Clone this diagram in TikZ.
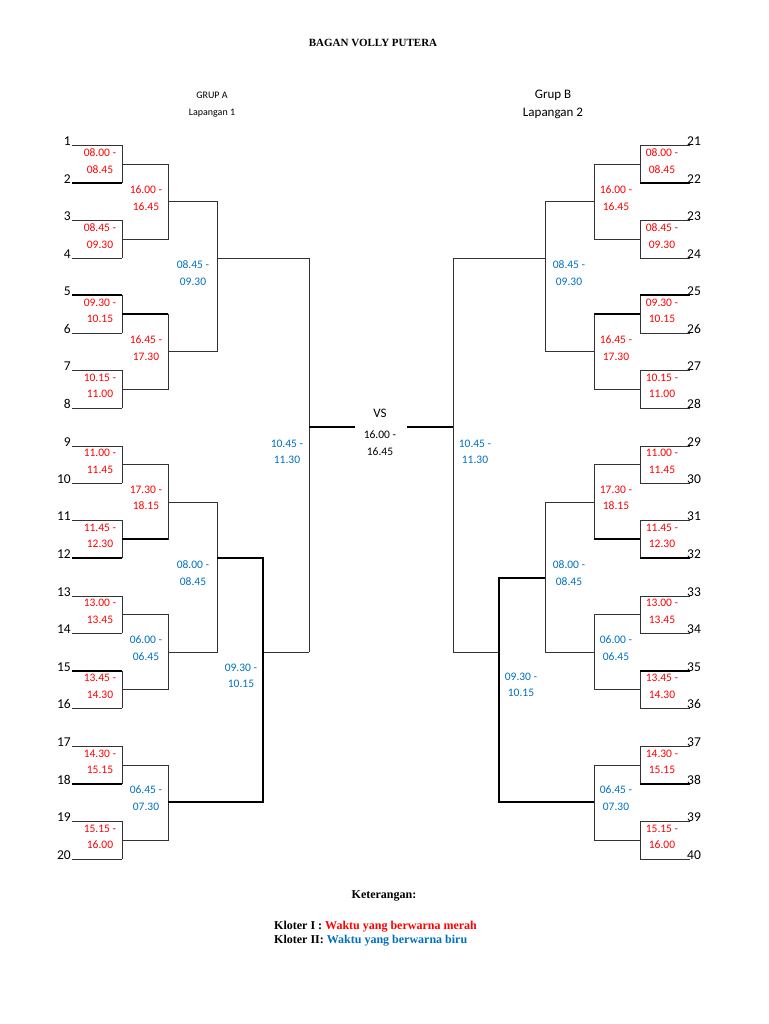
\documentclass[tikz,border=0pt]{standalone}
\usepackage{fontspec}
\setmainfont{Liberation Serif}
\newfontfamily\carlito{Carlito}
\definecolor{merah}{RGB}{255,0,0}
\definecolor{biru}{RGB}{0,112,192}
\tikzset{
  garis/.style={draw=black!80, line width=0.9pt},
  tebal/.style={draw=black, line width=1.9pt},
  jam/.style={font=\carlito\fontsize{11.5}{16.5}\selectfont, align=center, inner sep=0pt},
  nomor/.style={font=\carlito\fontsize{13.5}{15}\selectfont, inner sep=0pt},
}
% one half of the bracket: #1 prefix, #2 shift, #3 scale, #4 join y, #5 label y
\newcommand\sisi[5]{%
\begin{scope}[xshift=#2pt, xscale=#3]
  % teams
  \foreach \y in {145,183,220,258,295,333,370,408,446,483,520,558,596,633,671,708,746,784,821,859}
    \draw[garis] (72,\y) -- (122,\y);
  % round 1
  \foreach \a/\b/\t/\u [count=\k] in {145/183/08.00/08.45, 220/258/08.45/09.30,
      295/333/09.30/10.15, 370/408/10.15/11.00, 446/483/11.00/11.45,
      520/558/11.45/12.30, 596/633/13.00/13.45, 671/708/13.45/14.30,
      746/784/14.30/15.15, 821/859/15.15/16.00}{
    \draw[garis] (122,\a) -- (122,\b);
    \node[jam, text=merah] (#1r\k) at (100,{(\a+\b)/2-3}) {\t\ -\\\u};
  }
  % round 2
  \draw[garis] (122,164) -| (168,239) -- (122,239);
  \draw[garis] (122,314) -| (168,389) -- (122,389);
  \draw[garis] (122,464.5) -| (168,539) -- (122,539);
  \draw[garis] (122,614.5) -| (168,689.5) -- (122,689.5);
  \draw[garis] (122,765) -| (168,840) -- (122,840);
  \node[jam, text=merah] (#1s1) at (146,198) {16.00 -\\16.45};
  \node[jam, text=merah] (#1s2) at (146,348) {16.45 -\\17.30};
  \node[jam, text=merah] (#1s3) at (146,498) {17.30 -\\18.15};
  \node[jam, text=biru] (#1s4) at (146,648) {06.00 -\\06.45};
  \node[jam, text=biru] (#1s5) at (146,798) {06.45 -\\07.30};
  % round 3
  \draw[garis] (168,201.5) -| (217,351.5) -- (168,351.5);
  \draw[garis] (168,502) -| (217,652) -- (168,652);
  \draw[garis] (217,258) -- (309,258);
  \draw[garis] (263,652) -- (309,652) (309,258) -- (309,652);
  \node[jam, text=biru] (#1u1) at (193,273) {08.45 -\\09.30};
  \node[jam, text=biru] (#1u2) at (193,573) {08.00 -\\08.45};
  \node[jam, text=biru] (#1u3) at (241,#5) {09.30 -\\10.15};
  \node[jam, text=biru] (#1u4) at (287,452) {10.45 -\\11.30};
  % thick lines
  \foreach \y in {183,295,558,671,784} \draw[tebal] (72,\y) -- (122,\y);
  \draw[tebal] (122,314) -- (168,314) (122,539) -- (168,539);
  \draw[tebal] (217,#4) -| (263,802) -- (168,802);
  \draw[tebal] (309,427) -- (355,427);
\end{scope}}
\begin{document}
\begin{tikzpicture}[x=1pt, y=-1pt]
  \useasboundingbox (0,0) rectangle (768,1024);
  \node[font=\bfseries\fontsize{11}{13}\selectfont] (judul) at (373,43) {BAGAN VOLLY PUTERA};
  \node[font=\carlito\fontsize{10}{12}\selectfont] (grupA) at (212,95) {GRUP A};
  \node[font=\carlito\fontsize{10}{12}\selectfont] (lapA) at (212,113) {Lapangan 1};
  \node[font=\carlito\fontsize{13}{15}\selectfont] (grupB) at (553,95) {Grup B};
  \node[font=\carlito\fontsize{13}{15}\selectfont] (lapB) at (553,113) {Lapangan 2};
  \sisi{L}{0}{1}{558}{676}
  \sisi{R}{762}{-1}{578}{685}
  % team numbers
  \foreach \y [count=\i] in {145,183,220,258,295,333,370,408,446,483,520,558,596,633,671,708,746,784,821,859}{
    \pgfmathtruncatemacro\j{\i+20}
    \node[nomor, anchor=east] (nL\i) at (71,\y-4) {\i};
    \node[nomor, anchor=west] (nR\j) at (687,\y-4) {\j};
  }
  % final
  \node[font=\carlito\fontsize{13}{15}\selectfont] (vs) at (380,413) {VS};
  \node[jam] (final) at (380,443) {16.00 -\\16.45};
  % legend
  \node[font=\bfseries\fontsize{12}{14}\selectfont] (ket) at (384,896) {Keterangan:};
  \node[font=\bfseries\fontsize{12}{14}\selectfont, anchor=west, inner sep=0pt] (k1) at (274,927)
    {Kloter I : \textcolor{merah}{Waktu yang berwarna merah}};
  \node[font=\bfseries\fontsize{12}{14}\selectfont, anchor=west, inner sep=0pt] (k2) at (274,941)
    {Kloter II: \textcolor{biru}{Waktu yang berwarna biru}};
\end{tikzpicture}
\end{document}
